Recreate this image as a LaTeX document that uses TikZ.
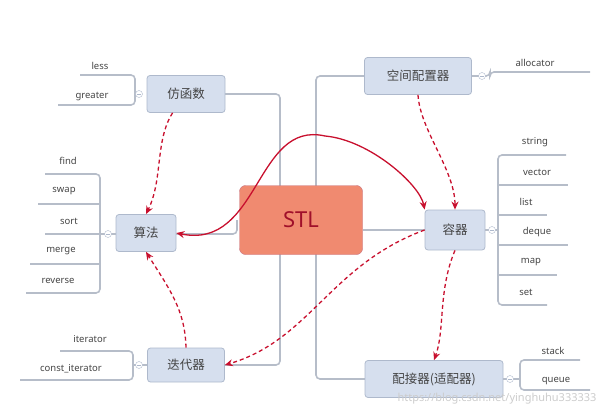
\documentclass[tikz,border=0pt]{standalone}
\usepackage{fontspec}
\setmainfont{Noto Sans}
\newfontfamily\cjk{Noto Sans CJK SC}
\usetikzlibrary{arrows.meta,positioning}
\definecolor{boxfill}{HTML}{D6DFEE}
\definecolor{boxline}{HTML}{AEB9CC}
\definecolor{trunk}{HTML}{B6BDC9}
\definecolor{stlfill}{HTML}{F08A70}
\definecolor{stltext}{HTML}{A0102A}
\definecolor{relred}{HTML}{C8102E}
\definecolor{txt}{HTML}{444444}
\tikzset{
  topic/.style={draw=boxline,fill=boxfill,rounded corners=3pt,line width=0.8pt,
    minimum height=37pt,inner xsep=8pt,font=\cjk\fontsize{12.5}{14}\selectfont,text=txt},
  leaf/.style={font=\fontsize{9.5}{11}\selectfont,text=txt,inner sep=1pt},
  branch/.style={draw=trunk,line width=1.6pt,rounded corners=4pt},
  fold/.style={circle,draw=boxline,fill=white,inner sep=0pt,minimum size=7pt,
    path picture={\draw[boxline,line width=0.5pt] (path picture bounding box.west)++(1.5pt,0) -- ++(4pt,0);}},
  rel/.style={draw=relred,line width=1.3pt,-{Stealth[length=8pt,width=7pt]}},
  reldash/.style={rel,dashed,dash pattern=on 4pt off 3pt}
}
\begin{document}
\begin{tikzpicture}[x=1pt,y=-1pt]
\useasboundingbox (0,0) rectangle (606,415);
% trunk lines
\draw[branch] (176,234) -- (237,234) -- (237,220);
\draw[branch] (225,94) -- (280,94) -- (280,365) -- (224,365);
\draw[branch] (365,76) -- (316,76) -- (316,379) -- (365,379);
\draw[branch] (363,230) -- (425,230);
% main nodes
\node[draw=stltext!60,fill=stlfill,rounded corners=6pt,minimum width=123pt,minimum height=69pt,
  font=\fontsize{22}{24}\bfseries,text=stltext] (stl) at (301,220) {STL};
\node[topic,minimum width=78pt] (functor) at (186,94) {仿函数};
\node[topic,minimum width=60pt] (algo) at (146,233) {算法};
\node[topic,minimum width=77pt,minimum height=34pt] (iter) at (186,365) {迭代器};
\node[topic,minimum width=107pt] (alloc) at (418,76) {空间配置器};
\node[topic,minimum width=60pt,minimum height=40pt] (cont) at (455,230) {容器};
\node[topic,minimum width=138pt] (adapt) at (434,379) {配接器(适配器)};
% leaves
\draw[branch] (80,75) -- (135,75) -- (135,105) -- (58,105) (135,94) -- (142,94);
\node[leaf] (less) at (100,66) {less};
\node[leaf] (greater) at (92,97) {greater};
\node[fold] at (139,94) {};
\draw[branch] (45,174) -- (100,174) -- (100,293) -- (26,293);
\foreach \y/\l in {204/38,234/45,264/30} \draw[branch] (\l,\y) -- (100,\y);
\draw[branch] (100,234) -- (116,234);
\node[leaf] (find) at (68,161) {find};
\node[leaf] (swap) at (64,191) {swap};
\node[leaf] (sort) at (69,221) {sort};
\node[leaf] (merge) at (61,251) {merge};
\node[leaf] (reverse) at (58,281) {reverse};
\node[fold] at (108,234) {};
\draw[branch] (60,351) -- (133,351) -- (133,380) -- (20,380) (133,365) -- (147,365);
\node[leaf] (iterator) at (90,339) {iterator};
\node[leaf] (citer) at (71,369) {const\_iterator};
\node[fold] at (139,365) {};
\draw[branch] (472,76) -- (490,76) -- (490,72) -- (590,72);
\node[leaf] (allocator) at (535,63) {allocator};
\node[fold] at (482,76) {};
\draw[branch] (566,155) -- (498,155) -- (498,305) -- (547,305) (485,230) -- (498,230);
\foreach \y/\r in {185/568,215/547,245/568,275/557} \draw[branch] (498,\y) -- (\r,\y);
\node[leaf] (string) at (535,142) {string};
\node[leaf] (vector) at (537,172) {vector};
\node[leaf] (list) at (526,202) {list};
\node[leaf] (deque) at (537,232) {deque};
\node[leaf] (map) at (531,262) {map};
\node[leaf] (set) at (526,292) {set};
\node[fold] at (492,230) {};
\draw[branch] (580,360) -- (520,360) -- (520,390) -- (590,390) (503,379) -- (520,379);
\node[leaf] (stack) at (553,351) {stack};
\node[leaf] (queue) at (556,381) {queue};
\node[fold] at (510,379) {};
% relations
\draw[reldash] (functor.south west)++(26,0) .. controls (155,140) and (163,180) .. (algo.north);
\draw[reldash] (iter.north) .. controls (185,310) and (170,290) .. (algo.south);
\draw[reldash] (alloc.south) .. controls (420,130) and (455,170) .. (cont.north);
\draw[reldash] (cont.west) .. controls (330,265) and (310,340) .. (iter.east);
\draw[reldash] (cont.south) .. controls (438,290) and (445,330) .. (adapt.north);
\draw[rel,{Stealth[length=8pt,width=7pt]}-{Stealth[length=8pt,width=7pt]}] (algo.east) .. controls (260,250) and (255,120) .. (325,136) .. controls (370,140) and (420,185) .. (cont.north west);
\node[text=gray!40,font=\fontsize{11}{12}\selectfont,anchor=south east] (mark) at (600,408) {https://blog.csdn.net/yinghuhu333333};
\end{tikzpicture}
\end{document}
